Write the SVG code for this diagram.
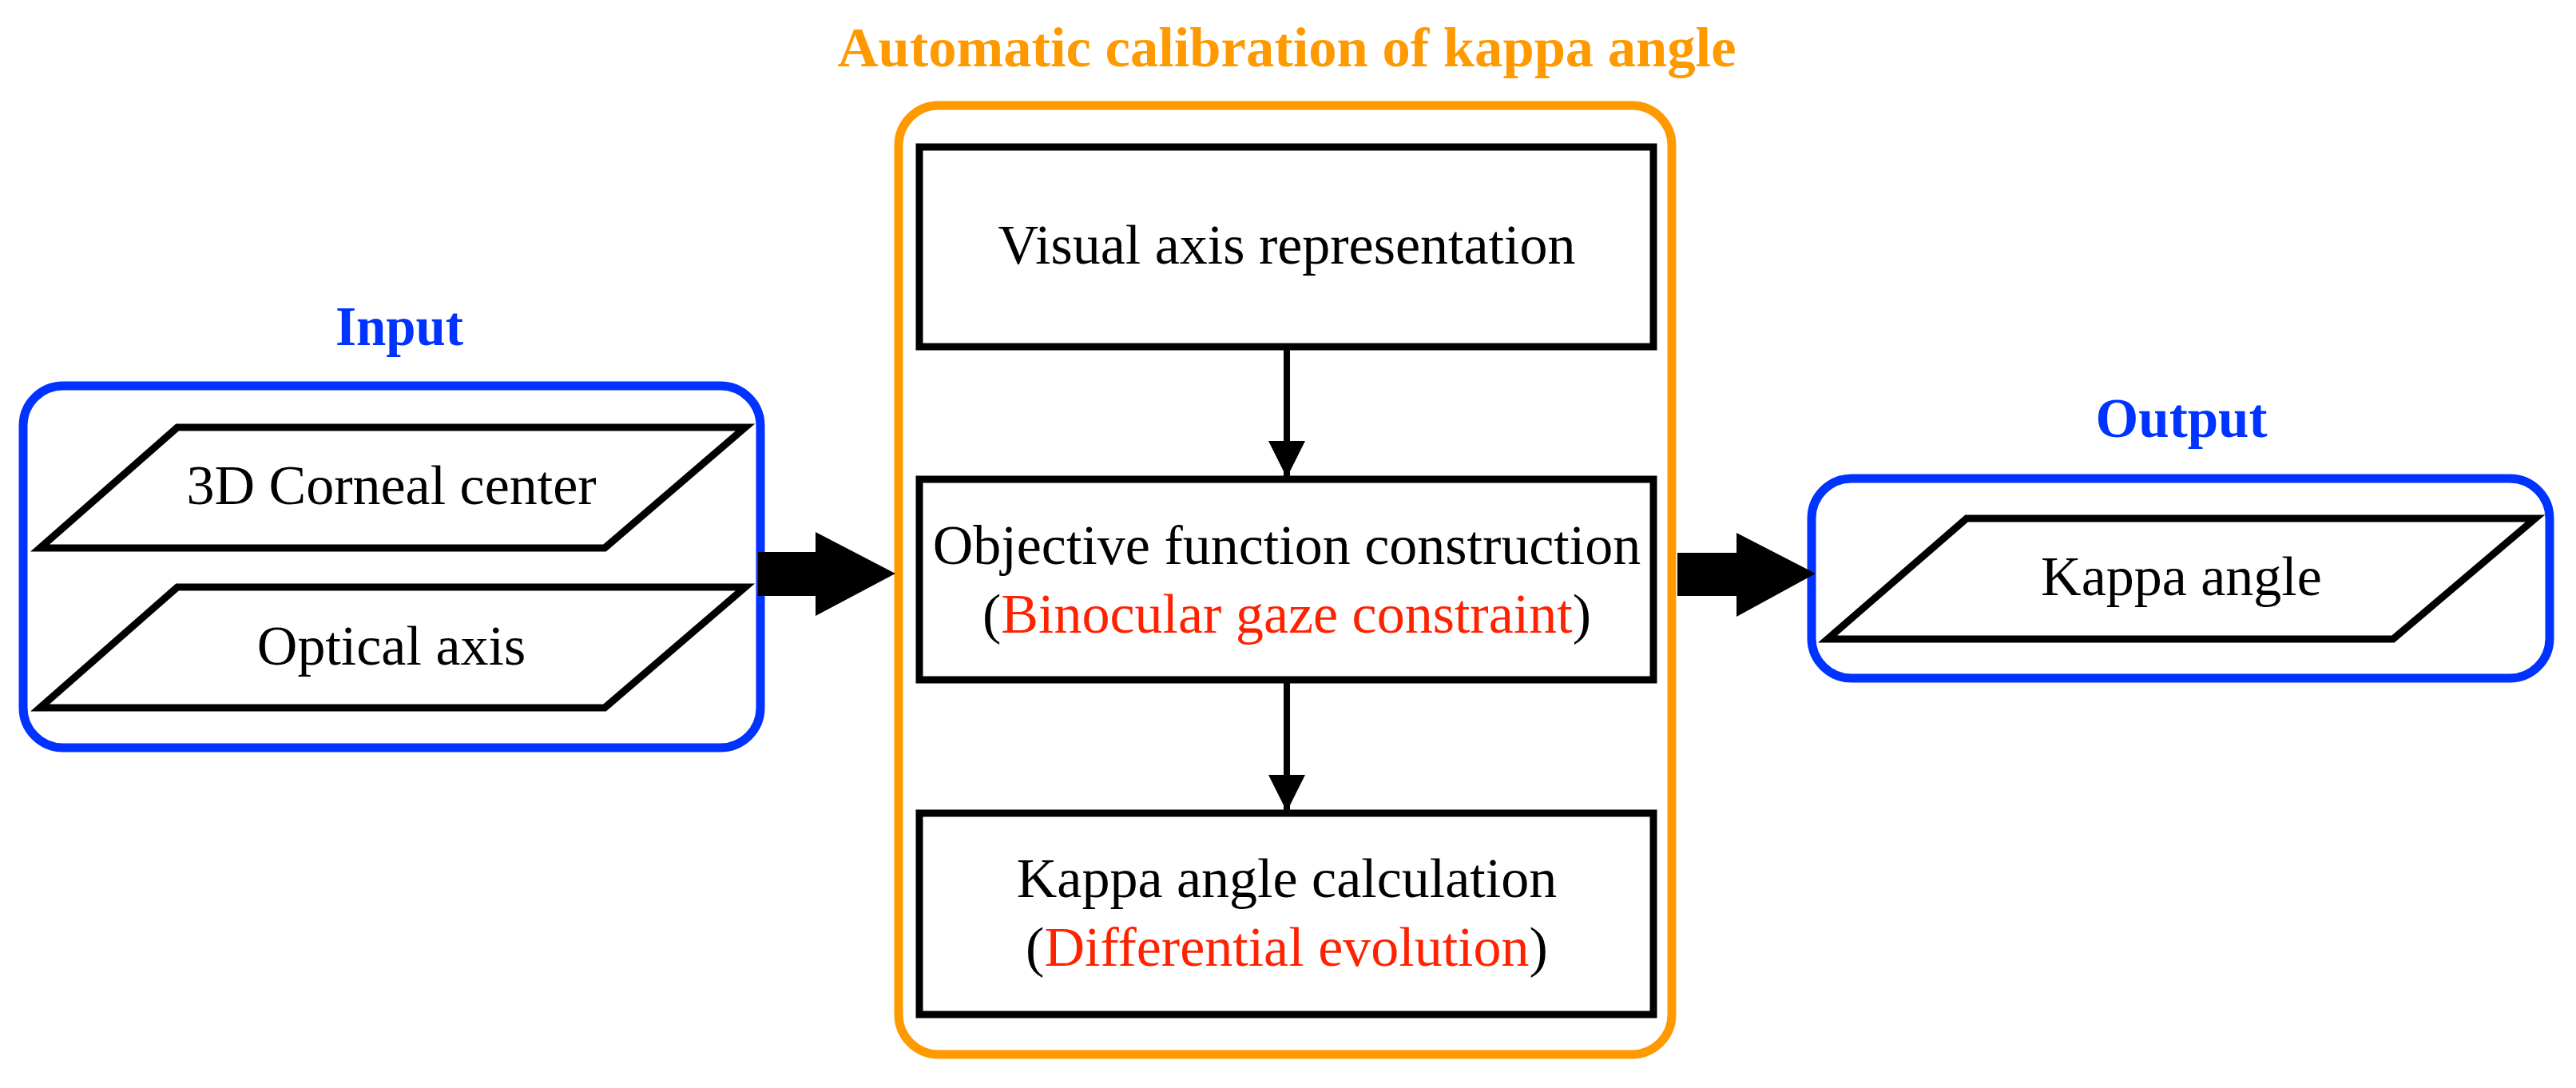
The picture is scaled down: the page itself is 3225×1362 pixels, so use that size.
<svg xmlns="http://www.w3.org/2000/svg" width="3225" height="1362" viewBox="0 0 3225 1362">
<style>
.t{font-family:"Liberation Serif","Times New Roman",serif;font-size:70px;fill:#000;text-anchor:middle}
.h{font-family:"Liberation Serif","Times New Roman",serif;font-size:70px;font-weight:bold;text-anchor:middle}
.red{fill:#FF2200}
.box{fill:#fff;stroke:#000;stroke-width:9}
.par{fill:#fff;stroke:#000;stroke-width:9;stroke-linejoin:miter}
.grp{fill:none;stroke-width:11}
.conn{stroke:#000;stroke-width:8;fill:none}
</style>
<defs>
<marker id="ah" markerUnits="userSpaceOnUse" markerWidth="46" markerHeight="58" refX="46" refY="23" orient="auto">
<path d="M0,0 L46,23 L0,46 Z" fill="#000" transform="translate(0,0)"/>
</marker>
</defs>
<rect width="3225" height="1362" fill="#fff"/>
<g id="input">
<text class="h" x="500" y="432" fill="#0033FF" textLength="160" lengthAdjust="spacingAndGlyphs">Input</text>
<rect class="grp" x="29" y="483" width="923" height="453" rx="50" stroke="#0033FF"/>
</g>
<g id="corneal">
<polygon class="par" points="222,535 933,535 757,686 50,686"/>
<text class="t" x="490" y="631">3D Corneal center</text>
</g>
<g id="optical">
<polygon class="par" points="222,735 933,735 757,886 50,886"/>
<text class="t" x="490" y="832">Optical axis</text>
</g>
<g id="calib">
<text class="h" x="1611" y="83" fill="#FF9900" textLength="1125" lengthAdjust="spacingAndGlyphs">Automatic calibration of kappa angle</text>
<rect class="grp" x="1125" y="132" width="968" height="1188" rx="50" stroke="#FF9900" stroke-width="12"/>
</g>
<g id="visual">
<rect class="box" x="1151" y="184" width="919" height="250"/>
<text class="t" x="1611" y="330">Visual axis representation</text>
</g>
<g id="objective">
<rect class="box" x="1151" y="600" width="919" height="251"/>
<text class="t" x="1611" y="706">Objective function construction</text>
<text class="t" x="1611" y="792">(<tspan class="red">Binocular gaze constraint</tspan>)</text>
</g>
<g id="kappacalc">
<rect class="box" x="1151" y="1018" width="919" height="252"/>
<text class="t" x="1611" y="1123">Kappa angle calculation</text>
<text class="t" x="1611" y="1209">(<tspan class="red">Differential evolution</tspan>)</text>
</g>
<g id="output">
<text class="h" x="2731" y="547" fill="#0033FF" textLength="215" lengthAdjust="spacingAndGlyphs">Output</text>
<rect class="grp" x="2268" y="599" width="924" height="250" rx="50" stroke="#0033FF"/>
</g>
<g id="kappa">
<polygon class="par" points="2462,649 3174,649 2996,800 2288,800"/>
<text class="t" x="2731" y="745">Kappa angle</text>
</g>
<g id="connectors">
<line class="conn" x1="1611" y1="434" x2="1611" y2="598" marker-end="url(#ah)"/>
<line class="conn" x1="1611" y1="851" x2="1611" y2="1016" marker-end="url(#ah)"/>
<polygon points="949,691 1021,691 1021,666 1121,718 1021,771 1021,746 949,746" fill="#000"/>
<polygon points="2100,692 2174,692 2174,667 2273,718 2174,772 2174,746 2100,746" fill="#000"/>
</g>
</svg>
